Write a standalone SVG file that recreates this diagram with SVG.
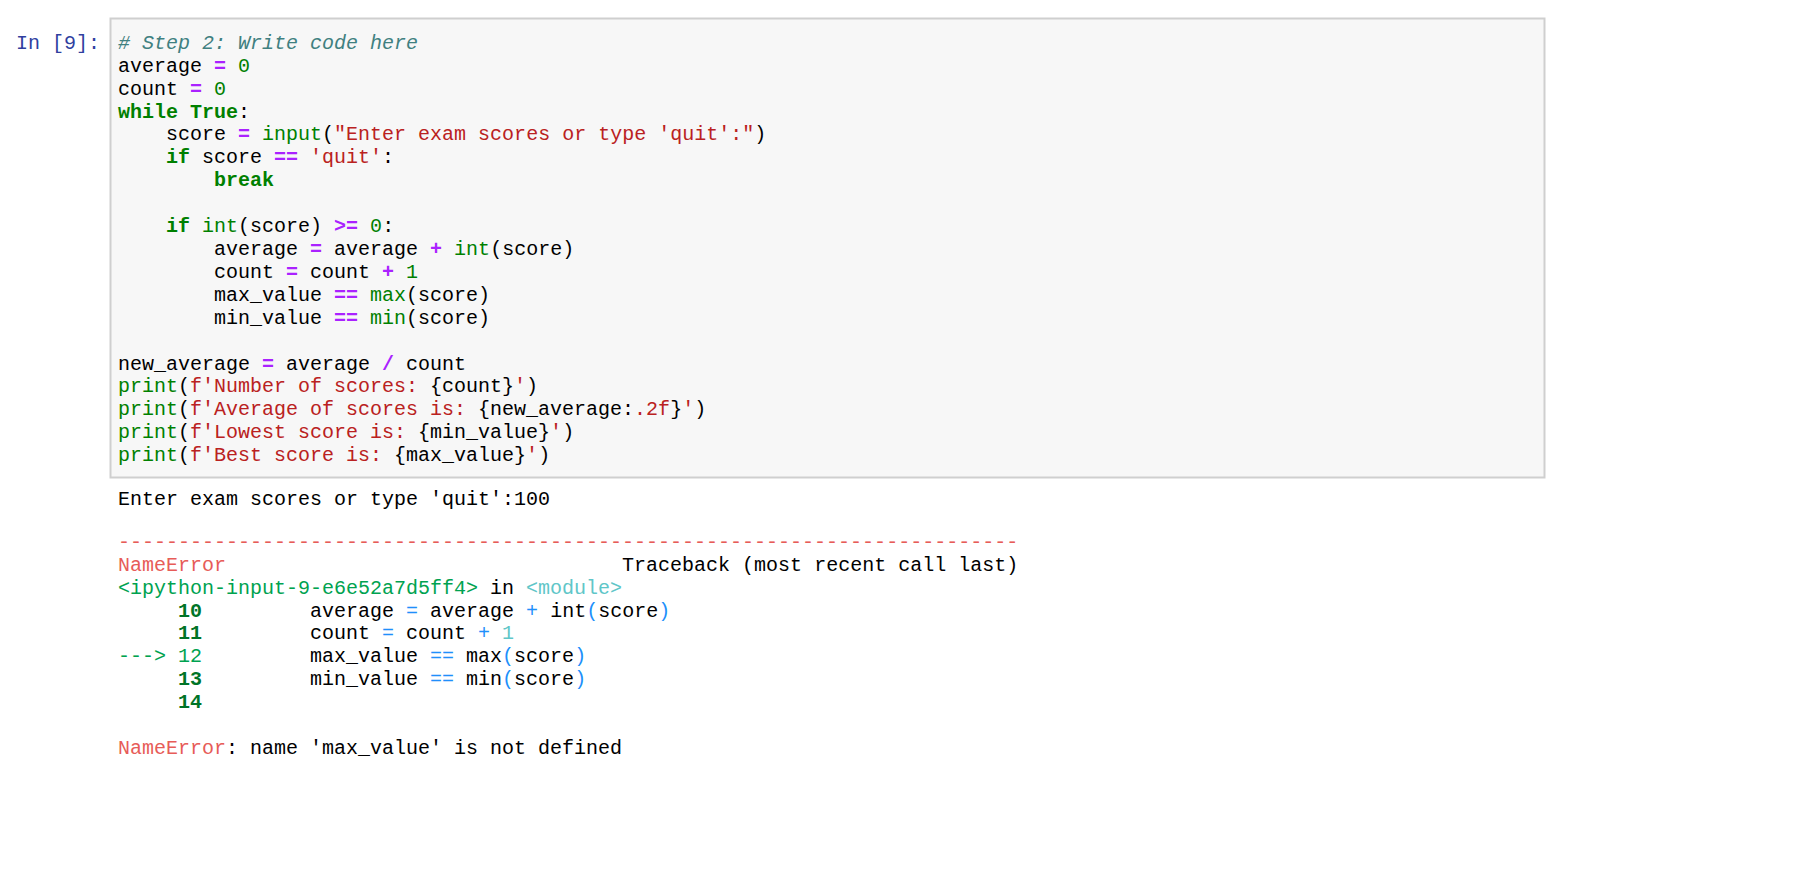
<svg xmlns="http://www.w3.org/2000/svg" width="1812" height="886" viewBox="0 0 1812 886">
<style>
text{font-family:"Liberation Mono",monospace;font-size:20px;fill:#000;white-space:pre}
.c{fill:#408080;font-style:italic}.k{fill:#008000;font-weight:bold}.o{fill:#AA22FF;font-weight:bold}
.n{fill:#008000}.s{fill:#BA2121}.p{fill:#303F9F}
.r{fill:#E75C58}.g{fill:#00A250}.cy{fill:#60C6C8}.b{fill:#208FFB}.ln{fill:#007427;font-weight:bold}
</style>
<rect width="1812" height="886" fill="#fff"/>
<g id="prompt"><text class="p" x="100" y="49" text-anchor="end">In [9]:</text></g>
<g id="cell">
<rect x="110.5" y="18.5" width="1434" height="459" fill="#f7f7f7" stroke="#cfcfcf" stroke-width="2"/>
<g xml:space="preserve">
<text x="118" y="49"><tspan class="c"># Step 2: Write code here</tspan></text>
<text x="118" y="72">average <tspan class="o">=</tspan> <tspan class="n">0</tspan></text>
<text x="118" y="95">count <tspan class="o">=</tspan> <tspan class="n">0</tspan></text>
<text x="118" y="118"><tspan class="k">while</tspan> <tspan class="k">True</tspan>:</text>
<text x="118" y="140">    score <tspan class="o">=</tspan> <tspan class="n">input</tspan>(<tspan class="s">"Enter exam scores or type 'quit':"</tspan>)</text>
<text x="118" y="163">    <tspan class="k">if</tspan> score <tspan class="o">==</tspan> <tspan class="s">'quit'</tspan>:</text>
<text x="118" y="186">        <tspan class="k">break</tspan></text>
<text x="118" y="232">    <tspan class="k">if</tspan> <tspan class="n">int</tspan>(score) <tspan class="o">&gt;=</tspan> <tspan class="n">0</tspan>:</text>
<text x="118" y="255">        average <tspan class="o">=</tspan> average <tspan class="o">+</tspan> <tspan class="n">int</tspan>(score)</text>
<text x="118" y="278">        count <tspan class="o">=</tspan> count <tspan class="o">+</tspan> <tspan class="n">1</tspan></text>
<text x="118" y="301">        max_value <tspan class="o">==</tspan> <tspan class="n">max</tspan>(score)</text>
<text x="118" y="324">        min_value <tspan class="o">==</tspan> <tspan class="n">min</tspan>(score)</text>
<text x="118" y="370">new_average <tspan class="o">=</tspan> average <tspan class="o">/</tspan> count</text>
<text x="118" y="392"><tspan class="n">print</tspan>(<tspan class="s">f'Number of scores: </tspan>{count}<tspan class="s">'</tspan>)</text>
<text x="118" y="415"><tspan class="n">print</tspan>(<tspan class="s">f'Average of scores is: </tspan>{new_average:<tspan class="s">.2f</tspan>}<tspan class="s">'</tspan>)</text>
<text x="118" y="438"><tspan class="n">print</tspan>(<tspan class="s">f'Lowest score is: </tspan>{min_value}<tspan class="s">'</tspan>)</text>
<text x="118" y="461"><tspan class="n">print</tspan>(<tspan class="s">f'Best score is: </tspan>{max_value}<tspan class="s">'</tspan>)</text>
</g>
</g>
<g id="output" xml:space="preserve">
<text x="118" y="505">Enter exam scores or type 'quit':100</text>
<text x="118" y="548" class="r">---------------------------------------------------------------------------</text>
<text x="118" y="571"><tspan class="r">NameError</tspan>                                 Traceback (most recent call last)</text>
<text x="118" y="594"><tspan class="g">&lt;ipython-input-9-e6e52a7d5ff4&gt;</tspan> in <tspan class="cy">&lt;module&gt;</tspan></text>
<text x="118" y="617"><tspan class="ln">     10</tspan>         average <tspan class="b">=</tspan> average <tspan class="b">+</tspan> int<tspan class="b">(</tspan>score<tspan class="b">)</tspan></text>
<text x="118" y="639"><tspan class="ln">     11</tspan>         count <tspan class="b">=</tspan> count <tspan class="b">+</tspan> <tspan class="cy">1</tspan></text>
<text x="118" y="662"><tspan class="g">---&gt; 12</tspan>         max_value <tspan class="b">==</tspan> max<tspan class="b">(</tspan>score<tspan class="b">)</tspan></text>
<text x="118" y="685"><tspan class="ln">     13</tspan>         min_value <tspan class="b">==</tspan> min<tspan class="b">(</tspan>score<tspan class="b">)</tspan></text>
<text x="118" y="708"><tspan class="ln">     14</tspan></text>
<text x="118" y="754"><tspan class="r">NameError</tspan>: name 'max_value' is not defined</text>
</g>
</svg>
